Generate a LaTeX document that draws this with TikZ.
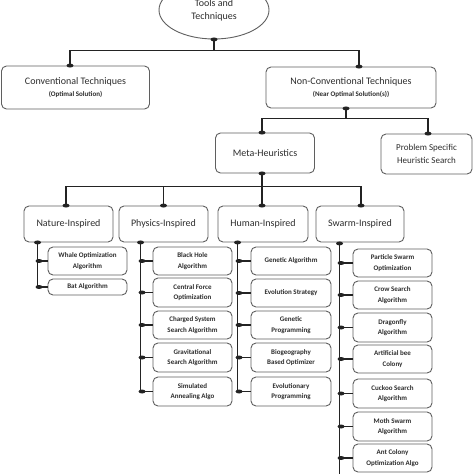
\documentclass[tikz,border=0pt]{standalone}
\usepackage{fontspec}
\setmainfont{Carlito}
\usetikzlibrary{shapes.geometric}
\definecolor{boxgray}{RGB}{95,95,95}
\definecolor{linegray}{RGB}{35,35,35}
\definecolor{textgray}{RGB}{45,45,45}
\tikzset{
  box/.style={draw=boxgray, line width=0.9pt, rounded corners=5pt, inner sep=1pt, align=center, text=textgray},
  head/.style={box, font=\fontsize{10}{13}\selectfont},
  kid/.style={box, font=\bfseries\fontsize{7}{10.3}\selectfont, minimum width=79pt},
  conn/.style={draw=linegray, line width=1.3pt},
}
\newcommand\jdot[1]{\fill[linegray] #1 ellipse [x radius=3.5pt, y radius=2pt];}
\begin{document}
\begin{tikzpicture}[x=1pt,y=-1pt]
\useasboundingbox (0,0) rectangle (474,474);
\fill[white] (0,0) rectangle (474,474);
% top
\node[ellipse, draw=boxgray, line width=0.9pt, minimum width=110pt, minimum height=58pt, align=center, text=textgray, font=\fontsize{10}{13}\selectfont] (tools) at (214,10) {Tools and\\Techniques};
\node[head, minimum width=148pt, minimum height=43pt] (conv) at (75.5,87.5) {Conventional Techniques\\[-1pt]{\bfseries\fontsize{7}{8}\selectfont (Optimal Solution)}};
\node[head, minimum width=170pt, minimum height=41pt] (nonconv) at (351,87.5) {Non-Conventional Techniques\\[-1pt]{\bfseries\fontsize{7}{8}\selectfont (Near Optimal Solution(s))}};
\node[head, minimum width=99pt, minimum height=40pt] (meta) at (265,153) {Meta-Heuristics};
\node[head, font=\fontsize{9}{13}\selectfont, minimum width=91pt, minimum height=40pt] (prob) at (426.5,154) {Problem Specific\\Heuristic Search};
\node[head, minimum width=89pt, minimum height=36pt] (nature) at (68.5,224) {Nature-Inspired};
\node[head, minimum width=89pt, minimum height=36pt] (physics) at (163.5,224) {Physics-Inspired};
\node[head, minimum width=90pt, minimum height=36pt] (human) at (263,224) {Human-Inspired};
\node[head, minimum width=88pt, minimum height=36pt] (swarm) at (360,224) {Swarm-Inspired};
% nature kids
\node[kid, minimum height=28pt] (whale) at (87.5,261) {Whale Optimization\\Algorithm};
\node[kid, minimum height=16pt] (bat) at (87.5,287) {Bat Algorithm};
% physics kids
\node[kid, minimum height=28pt] (black) at (192.5,261) {Black Hole\\Algorithm};
\node[kid, minimum height=29pt] (cfo) at (192.5,292.5) {Central Force\\Optimization};
\node[kid, minimum height=28pt] (css) at (192.5,325) {Charged System\\Search Algorithm};
\node[kid, minimum height=29pt] (gsa) at (192.5,357.5) {Gravitational\\Search Algorithm};
\node[kid, minimum height=29pt] (sa) at (192.5,391.5) {Simulated\\Annealing Algo};
% human kids
\node[kid, minimum width=80pt, minimum height=28pt] (ga) at (291,261) {Genetic Algorithm};
\node[kid, minimum width=80pt, minimum height=28pt] (es) at (291,293) {Evolution Strategy};
\node[kid, minimum width=80pt, minimum height=28pt] (gp) at (291,325) {Genetic\\Programming};
\node[kid, minimum width=80pt, minimum height=29pt] (bbo) at (291,357.5) {Biogeography\\Based Optimizer};
\node[kid, minimum width=80pt, minimum height=29pt] (ep) at (291,391.5) {Evolutionary\\Programming};
% swarm kids
\node[kid, minimum height=28pt] (pso) at (392.5,263) {Particle Swarm\\Optimization};
\node[kid, minimum height=28pt] (crow) at (392.5,295) {Crow Search\\Algorithm};
\node[kid, minimum height=29pt] (dragon) at (392.5,327.5) {Dragonfly\\Algorithm};
\node[kid, minimum height=28pt] (abc) at (392.5,359) {Artificial bee\\Colony};
\node[kid, minimum height=29pt] (cuckoo) at (392.5,393.5) {Cuckoo Search\\Algorithm};
\node[kid, minimum height=29pt] (moth) at (392.5,426.5) {Moth Swarm\\Algorithm};
\node[kid, minimum height=28pt] (ant) at (392.5,458) {Ant Colony\\Optimization Algo};
% level 1 connectors
\draw[conn] (tools.south) -- ++(0,11) -| ([xshift=-5.5pt]conv.north);
\draw[conn] (tools.south) -- ++(0,11) -| ([xshift=8pt]nonconv.north);
\jdot{(tools.south)}
\jdot{([xshift=-5.5pt]conv.north)}
\jdot{([xshift=8pt]nonconv.north)}
% level 2
\draw[conn] ([xshift=-5pt]nonconv.south) -- ++(0,10) -| ([xshift=-3pt]meta.north);
\draw[conn] ([xshift=-5pt]nonconv.south) -- ++(0,10) -| ([xshift=1.5pt]prob.north);
\jdot{([xshift=-5pt]nonconv.south)}
\jdot{([xshift=-3pt]meta.north)}
\jdot{([xshift=1.5pt]prob.north)}
% level 3
\draw[conn] ([xshift=-3pt]meta.south) -- ++(0,13) -| ([xshift=-2.5pt]nature.north);
\draw[conn] ([xshift=-3pt]meta.south) -- ++(0,13) -| (physics.north);
\draw[conn] ([xshift=-3pt]meta.south) -- ++(0,13) -| ([xshift=-1pt]human.north);
\draw[conn] ([xshift=-3pt]meta.south) -- ++(0,13) -| ([xshift=1pt]swarm.north);
\jdot{([xshift=-3pt]meta.south)}
\jdot{([xshift=-2.5pt]nature.north)}
\jdot{(physics.north)}
\jdot{([xshift=-1pt]human.north)}
\jdot{([xshift=1pt]swarm.north)}
% trunks
\coordinate (ntr) at ([xshift=14pt]nature.south west);
\coordinate (ptr) at ([xshift=22pt]physics.south west);
\coordinate (htr) at ([xshift=20pt]human.south west);
\coordinate (str) at ([xshift=24pt]swarm.south west);
\coordinate (sbot) at (340,478);
\draw[conn] (ntr) -- (ntr |- bat.west);
\draw[conn] (ptr) -- (ptr |- sa.west);
\draw[conn] (htr) -- (htr |- ep.west);
\draw[conn] (str) -- (str |- sbot);
\jdot{(ntr)}
\jdot{(ptr)}
\jdot{(htr)}
\jdot{([yshift=-1pt]str)}
\foreach \k in {whale,bat}{
  \draw[conn] (ntr |- \k.west) -- (\k.west);
  \jdot{([xshift=1.5pt]ntr |- \k.west)}
}
\foreach \k in {black,cfo,css,gsa,sa}{
  \draw[conn] (ptr |- \k.west) -- (\k.west);
  \jdot{([xshift=1.5pt]ptr |- \k.west)}
}
\foreach \k in {ga,es,gp,bbo,ep}{
  \draw[conn] (htr |- \k.west) -- (\k.west);
  \jdot{([xshift=1.5pt]htr |- \k.west)}
}
\foreach \k in {pso,crow,dragon,abc,cuckoo,moth,ant}{
  \draw[conn] (str |- \k.west) -- (\k.west);
  \jdot{([xshift=1.5pt]str |- \k.west)}
}
\end{tikzpicture}
\end{document}
